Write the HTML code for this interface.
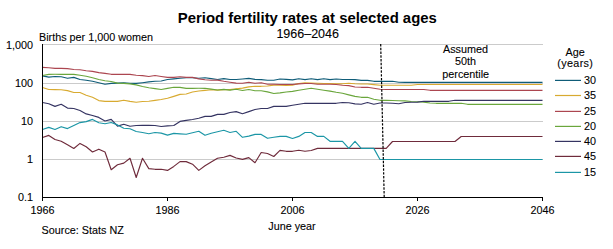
<!DOCTYPE html><html><head><meta charset="utf-8"><style>html,body{margin:0;padding:0;background:#fff;overflow:hidden}svg{display:block}</style></head><body><svg width="613" height="249" viewBox="0 0 613 249">
<rect width="613" height="249" fill="#fff"/>
<line x1="43" y1="44.5" x2="543" y2="44.5" stroke="#cbcbcb" stroke-width="1"/>
<line x1="43" y1="83.5" x2="543" y2="83.5" stroke="#cbcbcb" stroke-width="1"/>
<line x1="43" y1="121.5" x2="543" y2="121.5" stroke="#cbcbcb" stroke-width="1"/>
<line x1="43" y1="159.5" x2="543" y2="159.5" stroke="#cbcbcb" stroke-width="1"/>
<polyline points="42.5,75.9 48.8,77.1 55.0,76.5 61.2,76.7 67.5,78.3 73.8,77.4 80.0,79.5 86.2,80.3 92.5,81.3 98.8,82.7 105.0,84.3 111.2,83.4 117.5,83.1 123.8,82.7 130.0,83.4 136.2,83.4 142.5,82.7 148.8,81.9 155.0,81.3 161.2,81.0 167.5,79.5 173.8,78.9 180.0,78.3 186.2,77.7 192.5,77.7 198.8,78.3 205.0,77.7 211.2,78.6 217.5,79.5 223.8,78.6 230.0,79.5 236.2,79.5 242.5,79.0 248.8,78.4 255.0,79.4 261.2,79.6 267.5,80.2 273.8,80.2 280.0,79.0 286.2,79.4 292.5,79.9 298.8,78.7 305.0,79.6 311.2,78.7 317.5,79.6 323.8,78.7 330.0,79.6 336.2,79.0 342.5,79.5 348.8,79.5 355.0,79.6 361.2,80.4 367.5,80.4 373.8,81.3 380.0,81.3 386.2,81.3 392.5,81.3 398.8,82.2 405.0,82.4 411.2,82.4 417.5,82.4 423.8,82.4 430.0,82.4 436.2,82.4 442.5,82.4 448.8,82.4 455.0,82.4 461.2,82.4 467.5,82.4 473.8,82.4 480.0,82.4 486.2,82.4 492.5,82.4 498.8,82.4 505.0,82.4 511.2,82.4 517.5,82.4 523.8,82.4 530.0,82.4 536.2,82.4 542.5,82.4" fill="none" stroke="#0f5c78" stroke-width="1.15" stroke-linejoin="round"/>
<polyline points="42.5,87.5 48.8,89.5 55.0,89.6 61.2,89.8 67.5,90.6 73.8,92.5 80.0,92.5 86.2,95.2 92.5,97.2 98.8,100.6 105.0,101.4 111.2,101.4 117.5,101.4 123.8,100.2 130.0,101.4 136.2,102.3 142.5,101.5 148.8,101.3 155.0,100.4 161.2,99.5 167.5,98.3 173.8,96.4 180.0,94.4 186.2,94.0 192.5,92.0 198.8,91.0 205.0,90.4 211.2,89.8 217.5,90.1 223.8,89.6 230.0,89.6 236.2,88.7 242.5,88.1 248.8,86.9 255.0,86.3 261.2,86.3 267.5,86.0 273.8,85.1 280.0,85.1 286.2,85.4 292.5,85.1 298.8,83.5 305.0,82.7 311.2,83.0 317.5,83.3 323.8,83.5 330.0,83.5 336.2,83.9 342.5,83.7 348.8,83.2 355.0,83.7 361.2,84.0 367.5,84.0 373.8,84.6 380.0,85.2 386.2,85.2 392.5,85.2 398.8,85.2 405.0,85.2 411.2,85.2 417.5,84.5 423.8,84.5 430.0,84.5 436.2,84.5 442.5,84.5 448.8,84.5 455.0,84.5 461.2,84.5 467.5,84.5 473.8,84.5 480.0,84.5 486.2,84.5 492.5,84.5 498.8,84.5 505.0,84.5 511.2,84.5 517.5,84.5 523.8,84.5 530.0,84.5 536.2,84.5 542.5,84.5" fill="none" stroke="#d8aa30" stroke-width="1.15" stroke-linejoin="round"/>
<polyline points="42.5,67.4 48.8,67.7 55.0,68.4 61.2,68.4 67.5,68.6 73.8,69.5 80.0,69.8 86.2,70.7 92.5,71.4 98.8,72.6 105.0,73.4 111.2,74.3 117.5,74.3 123.8,74.3 130.0,74.4 136.2,75.3 142.5,75.6 148.8,76.5 155.0,75.5 161.2,76.5 167.5,77.4 173.8,77.4 180.0,76.7 186.2,77.4 192.5,77.4 198.8,78.9 205.0,79.8 211.2,80.3 217.5,80.1 223.8,81.3 230.0,82.2 236.2,83.1 242.5,83.3 248.8,82.3 255.0,83.3 261.2,82.7 267.5,84.2 273.8,84.2 280.0,84.5 286.2,84.5 292.5,84.5 298.8,83.9 305.0,83.5 311.2,83.5 317.5,84.2 323.8,84.2 330.0,84.2 336.2,84.5 342.5,85.2 348.8,85.6 355.0,87.0 361.2,87.3 367.5,87.3 373.8,88.3 380.0,89.2 386.2,89.5 392.5,89.5 398.8,89.5 405.0,89.5 411.2,89.5 417.5,89.5 423.8,89.5 430.0,90.3 436.2,90.3 442.5,90.3 448.8,90.3 455.0,90.3 461.2,90.3 467.5,90.3 473.8,90.3 480.0,90.3 486.2,90.3 492.5,90.3 498.8,90.3 505.0,90.3 511.2,90.3 517.5,90.3 523.8,90.3 530.0,90.3 536.2,90.3 542.5,90.3" fill="none" stroke="#ac4650" stroke-width="1.15" stroke-linejoin="round"/>
<polyline points="42.5,75.5 48.8,74.4 55.0,74.3 61.2,74.3 67.5,74.3 73.8,74.4 80.0,75.3 86.2,76.2 92.5,77.7 98.8,79.5 105.0,80.7 111.2,81.5 117.5,83.1 123.8,83.4 130.0,83.9 136.2,84.9 142.5,86.5 148.8,87.8 155.0,88.6 161.2,89.5 167.5,88.4 173.8,87.3 180.0,87.4 186.2,88.4 192.5,88.4 198.8,88.3 205.0,88.3 211.2,89.1 217.5,90.0 223.8,89.4 230.0,90.1 236.2,89.2 242.5,90.5 248.8,89.5 255.0,90.7 261.2,90.7 267.5,91.9 273.8,93.5 280.0,92.9 286.2,92.0 292.5,91.4 298.8,90.2 305.0,89.3 311.2,88.3 317.5,89.3 323.8,90.2 330.0,91.1 336.2,92.3 342.5,93.3 348.8,94.9 355.0,96.4 361.2,97.3 367.5,97.3 373.8,99.3 380.0,100.3 386.2,100.3 392.5,100.5 398.8,100.7 405.0,100.9 411.2,101.5 417.5,101.7 423.8,102.1 430.0,103.0 436.2,103.3 442.5,103.3 448.8,103.3 455.0,103.3 461.2,103.3 467.5,104.3 473.8,104.3 480.0,104.3 486.2,104.3 492.5,104.3 498.8,104.3 505.0,104.3 511.2,104.3 517.5,104.3 523.8,104.3 530.0,104.3 536.2,104.3 542.5,104.3" fill="none" stroke="#6aa63c" stroke-width="1.15" stroke-linejoin="round"/>
<polyline points="42.5,102.5 48.8,103.7 55.0,106.4 61.2,104.3 67.5,108.1 73.8,108.5 80.0,110.5 86.2,113.9 92.5,115.5 98.8,117.4 105.0,121.0 111.2,119.4 117.5,126.1 123.8,124.3 130.0,126.3 136.2,125.5 142.5,125.3 148.8,125.3 155.0,125.5 161.2,126.5 167.5,125.9 173.8,125.5 180.0,121.4 186.2,120.4 192.5,119.5 198.8,118.3 205.0,116.4 211.2,116.4 217.5,114.4 223.8,114.4 230.0,112.5 236.2,111.6 242.5,113.7 248.8,111.6 255.0,109.5 261.2,108.5 267.5,108.5 273.8,106.4 280.0,106.4 286.2,106.4 292.5,105.3 298.8,104.2 305.0,103.3 311.2,103.3 317.5,103.3 323.8,103.3 330.0,103.3 336.2,103.3 342.5,102.5 348.8,102.7 355.0,103.9 361.2,104.2 367.5,102.5 373.8,104.2 380.0,103.0 386.2,103.0 392.5,103.3 398.8,103.7 405.0,102.5 411.2,102.3 417.5,102.1 423.8,101.3 430.0,101.3 436.2,101.3 442.5,101.3 448.8,101.3 455.0,100.3 461.2,100.3 467.5,100.3 473.8,100.3 480.0,100.3 486.2,100.3 492.5,100.3 498.8,100.3 505.0,100.3 511.2,100.3 517.5,100.3 523.8,100.3 530.0,100.3 536.2,100.3 542.5,100.3" fill="none" stroke="#353462" stroke-width="1.15" stroke-linejoin="round"/>
<polyline points="42.5,137.5 48.8,135.4 55.0,139.5 61.2,141.2 67.5,144.8 73.8,148.5 80.0,143.4 86.2,146.8 92.5,152.0 98.8,149.2 105.0,152.0 111.2,169.7 117.5,164.7 123.8,163.1 130.0,158.3 136.2,177.5 142.5,158.3 148.8,168.6 155.0,169.3 161.2,169.3 167.5,170.4 173.8,166.4 180.0,161.6 186.2,161.6 192.5,164.2 198.8,170.4 205.0,165.8 211.2,162.0 217.5,158.3 223.8,157.2 230.0,155.4 236.2,158.0 242.5,159.4 248.8,157.6 255.0,162.7 261.2,152.5 267.5,153.5 273.8,156.5 280.0,150.4 286.2,151.3 292.5,151.3 298.8,150.3 305.0,151.3 311.2,150.5 317.5,148.4 323.8,148.4 330.0,148.4 336.2,148.4 342.5,148.4 348.8,148.4 355.0,148.4 361.2,148.4 367.5,148.4 373.8,148.4 380.0,148.4 386.2,148.4 392.5,141.5 398.8,141.5 405.0,141.5 411.2,141.5 417.5,141.5 423.8,141.5 430.0,141.5 436.2,141.5 442.5,141.5 448.8,141.5 455.0,141.5 461.2,136.5 467.5,136.5 473.8,136.5 480.0,136.5 486.2,136.5 492.5,136.5 498.8,136.5 505.0,136.5 511.2,136.5 517.5,136.5 523.8,136.5 530.0,136.5 536.2,136.5 542.5,136.5" fill="none" stroke="#6f2b3b" stroke-width="1.15" stroke-linejoin="round"/>
<polyline points="42.5,129.5 48.8,127.4 55.0,129.5 61.2,126.7 67.5,128.6 73.8,125.5 80.0,122.6 86.2,121.6 92.5,119.4 98.8,122.7 105.0,123.7 111.2,122.5 117.5,124.9 123.8,128.2 130.0,128.7 136.2,131.5 142.5,132.5 148.8,133.7 155.0,132.5 161.2,133.1 167.5,135.1 173.8,133.4 180.0,133.9 186.2,134.3 192.5,132.7 198.8,131.3 205.0,135.3 211.2,133.3 217.5,131.7 223.8,130.3 230.0,132.5 236.2,131.3 242.5,137.3 248.8,136.1 255.0,134.4 261.2,134.4 267.5,138.3 273.8,137.3 280.0,136.4 286.2,136.4 292.5,138.5 298.8,136.4 305.0,132.5 311.2,132.5 317.5,136.4 323.8,136.4 330.0,141.3 336.2,141.3 342.5,141.3 348.8,148.4 355.0,141.3 361.2,148.4 367.5,148.4 373.8,148.4 380.0,159.5 386.2,159.5 392.5,159.5 398.8,159.5 405.0,159.5 411.2,159.5 417.5,159.5 423.8,159.5 430.0,159.5 436.2,159.5 442.5,159.5 448.8,159.5 455.0,159.5 461.2,159.5 467.5,159.5 473.8,159.5 480.0,159.5 486.2,159.5 492.5,159.5 498.8,159.5 505.0,159.5 511.2,159.5 517.5,159.5 523.8,159.5 530.0,159.5 536.2,159.5 542.5,159.5" fill="none" stroke="#1b96a6" stroke-width="1.15" stroke-linejoin="round"/>
<line x1="380.7" y1="44" x2="384.2" y2="197" stroke="#000" stroke-width="1.2" stroke-dasharray="2.45,1.32"/>
<line x1="42.5" y1="44" x2="42.5" y2="201" stroke="#000" stroke-width="1"/>
<line x1="42" y1="197.5" x2="543" y2="197.5" stroke="#000" stroke-width="1"/>
<line x1="167.5" y1="197" x2="167.5" y2="201" stroke="#000" stroke-width="1"/>
<line x1="292.5" y1="197" x2="292.5" y2="201" stroke="#000" stroke-width="1"/>
<line x1="417.5" y1="197" x2="417.5" y2="201" stroke="#000" stroke-width="1"/>
<line x1="542.5" y1="197" x2="542.5" y2="201" stroke="#000" stroke-width="1"/>
<text x="307.3" y="22.6" font-family="Liberation Sans, sans-serif" font-size="14.9" font-weight="bold" text-anchor="middle" fill="#000">Period fertility rates at selected ages</text>
<text x="307.7" y="37.9" font-family="Liberation Sans, sans-serif" font-size="12.5" font-weight="normal" text-anchor="middle" fill="#000" stroke="#000" stroke-width="0.1">1966–2046</text>
<text x="39" y="40.5" font-family="Liberation Sans, sans-serif" font-size="10.8" font-weight="normal" text-anchor="start" fill="#000" stroke="#000" stroke-width="0.1">Births per 1,000 women</text>
<text x="33" y="48.7" font-family="Liberation Sans, sans-serif" font-size="10.8" font-weight="normal" text-anchor="end" fill="#000" stroke="#000" stroke-width="0.1">1,000</text>
<text x="33" y="87" font-family="Liberation Sans, sans-serif" font-size="10.8" font-weight="normal" text-anchor="end" fill="#000" stroke="#000" stroke-width="0.1">100</text>
<text x="33" y="125.2" font-family="Liberation Sans, sans-serif" font-size="10.8" font-weight="normal" text-anchor="end" fill="#000" stroke="#000" stroke-width="0.1">10</text>
<text x="33" y="163.4" font-family="Liberation Sans, sans-serif" font-size="10.8" font-weight="normal" text-anchor="end" fill="#000" stroke="#000" stroke-width="0.1">1</text>
<text x="33" y="200.9" font-family="Liberation Sans, sans-serif" font-size="10.8" font-weight="normal" text-anchor="end" fill="#000" stroke="#000" stroke-width="0.1">0.1</text>
<text x="42.5" y="213.8" font-family="Liberation Sans, sans-serif" font-size="10.8" font-weight="normal" text-anchor="middle" fill="#000" stroke="#000" stroke-width="0.1">1966</text>
<text x="167.5" y="213.8" font-family="Liberation Sans, sans-serif" font-size="10.8" font-weight="normal" text-anchor="middle" fill="#000" stroke="#000" stroke-width="0.1">1986</text>
<text x="292.5" y="213.8" font-family="Liberation Sans, sans-serif" font-size="10.8" font-weight="normal" text-anchor="middle" fill="#000" stroke="#000" stroke-width="0.1">2006</text>
<text x="417.5" y="213.8" font-family="Liberation Sans, sans-serif" font-size="10.8" font-weight="normal" text-anchor="middle" fill="#000" stroke="#000" stroke-width="0.1">2026</text>
<text x="542.5" y="213.8" font-family="Liberation Sans, sans-serif" font-size="10.8" font-weight="normal" text-anchor="middle" fill="#000" stroke="#000" stroke-width="0.1">2046</text>
<text x="292" y="229.7" font-family="Liberation Sans, sans-serif" font-size="10.8" font-weight="normal" text-anchor="middle" fill="#000" stroke="#000" stroke-width="0.1">June year</text>
<text x="41.6" y="233.8" font-family="Liberation Sans, sans-serif" font-size="10.8" font-weight="normal" text-anchor="start" fill="#000" stroke="#000" stroke-width="0.1">Source: Stats NZ</text>
<text x="465.5" y="53" font-family="Liberation Sans, sans-serif" font-size="10.8" font-weight="normal" text-anchor="middle" fill="#000" stroke="#000" stroke-width="0.1">Assumed</text>
<text x="465.5" y="65.2" font-family="Liberation Sans, sans-serif" font-size="10.8" font-weight="normal" text-anchor="middle" fill="#000" stroke="#000" stroke-width="0.1">50th</text>
<text x="465.7" y="77.7" font-family="Liberation Sans, sans-serif" font-size="10.8" font-weight="normal" text-anchor="middle" fill="#000" stroke="#000" stroke-width="0.1">percentile</text>
<text x="575.1" y="55.5" font-family="Liberation Sans, sans-serif" font-size="10.8" font-weight="normal" text-anchor="middle" fill="#000" stroke="#000" stroke-width="0.1">Age</text>
<text x="575.3" y="67" font-family="Liberation Sans, sans-serif" font-size="10.8" font-weight="normal" text-anchor="middle" fill="#000" stroke="#000" stroke-width="0.1" letter-spacing="0.35">(years)</text>
<line x1="555" y1="80.40" x2="581" y2="80.40" stroke="#0f5c78" stroke-width="1.2"/>
<text x="584" y="84.10000000000001" font-family="Liberation Sans, sans-serif" font-size="10.8" font-weight="normal" text-anchor="start" fill="#000" stroke="#000" stroke-width="0.1">30</text>
<line x1="555" y1="95.50" x2="581" y2="95.50" stroke="#d8aa30" stroke-width="1.2"/>
<text x="584" y="99.2" font-family="Liberation Sans, sans-serif" font-size="10.8" font-weight="normal" text-anchor="start" fill="#000" stroke="#000" stroke-width="0.1">35</text>
<line x1="555" y1="111.40" x2="581" y2="111.40" stroke="#ac4650" stroke-width="1.2"/>
<text x="584" y="115.10000000000001" font-family="Liberation Sans, sans-serif" font-size="10.8" font-weight="normal" text-anchor="start" fill="#000" stroke="#000" stroke-width="0.1">25</text>
<line x1="555" y1="126.40" x2="581" y2="126.40" stroke="#6aa63c" stroke-width="1.2"/>
<text x="584" y="130.1" font-family="Liberation Sans, sans-serif" font-size="10.8" font-weight="normal" text-anchor="start" fill="#000" stroke="#000" stroke-width="0.1">20</text>
<line x1="555" y1="141.40" x2="581" y2="141.40" stroke="#353462" stroke-width="1.2"/>
<text x="584" y="145.1" font-family="Liberation Sans, sans-serif" font-size="10.8" font-weight="normal" text-anchor="start" fill="#000" stroke="#000" stroke-width="0.1">40</text>
<line x1="555" y1="156.40" x2="581" y2="156.40" stroke="#6f2b3b" stroke-width="1.2"/>
<text x="584" y="160.1" font-family="Liberation Sans, sans-serif" font-size="10.8" font-weight="normal" text-anchor="start" fill="#000" stroke="#000" stroke-width="0.1">45</text>
<line x1="555" y1="172.40" x2="581" y2="172.40" stroke="#1b96a6" stroke-width="1.2"/>
<text x="584" y="176.1" font-family="Liberation Sans, sans-serif" font-size="10.8" font-weight="normal" text-anchor="start" fill="#000" stroke="#000" stroke-width="0.1">15</text>
</svg></body></html>
